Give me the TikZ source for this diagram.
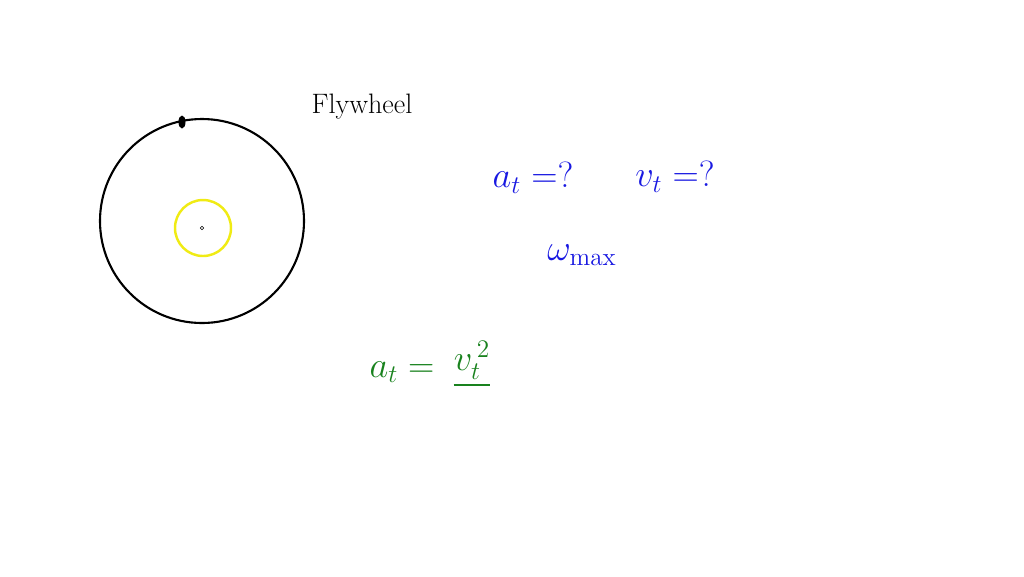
\documentclass[tikz,border=0pt]{standalone}
\usepackage{tikz}
\usepackage{amsmath}

\definecolor{penblue}{RGB}{25,25,225}
\definecolor{pengreen}{RGB}{25,130,30}
\definecolor{penyellow}{RGB}{240,235,20}

\tikzset{
  bluetext/.style={text=penblue,inner sep=0pt,font=\fontsize{22}{26}\selectfont},
  greentext/.style={text=pengreen,inner sep=0pt,font=\fontsize{22}{26}\selectfont}
}

\begin{document}
\begin{tikzpicture}[x=0.02cm,y=-0.02cm]
      \useasboundingbox (0,0) rectangle (1024,576);

      % wheel
      \draw[line width=1.2pt] (202,221) circle (102);
      \fill (182,122) ellipse (3.5 and 6.5);
      \draw[penyellow,line width=1.4pt] (203,228) circle (28);
      \draw[line width=0.3pt] (202,228) circle (1.8);
      \draw (362,107) node (flywheel) [inner sep=0pt,font=\fontsize{16}{18}\selectfont] {Flywheel};

      % unknowns
      \draw (533,178) node (at) [bluetext] {$a_t =?$};
      \draw (675,177) node (vt) [bluetext] {$v_t=?$};
      \draw (582,255) node (wmax) [bluetext] {$\omega_{\mathrm{max}}$};

      % formula
      \draw (402,372) node (lhs) [greentext] {$a_t=$};
      \draw (472,360) node (num) [greentext] {$v_{t}^{\,2}$};
      \draw[pengreen,line width=0.9pt] ([yshift=-3pt]num.south west) -- ([yshift=-3pt]num.south east);
    \end{tikzpicture}
\end{document}
